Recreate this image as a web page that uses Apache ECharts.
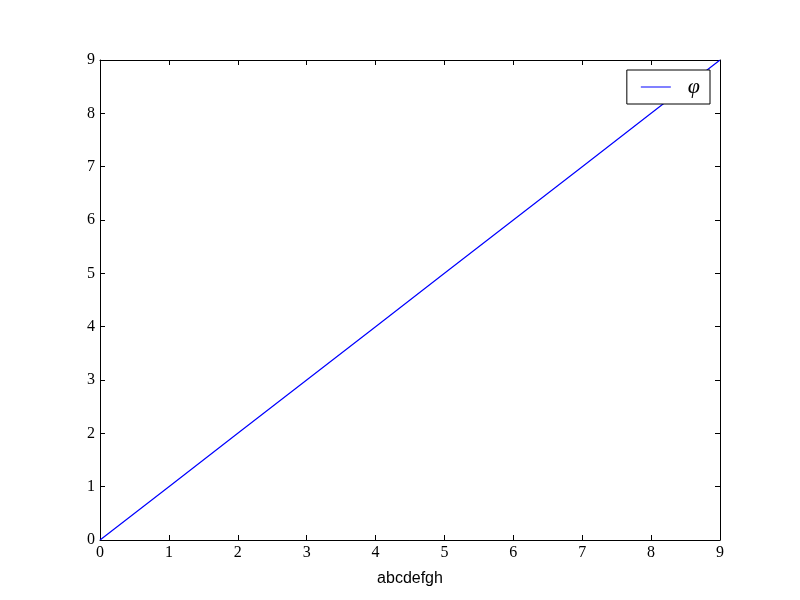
<!DOCTYPE html>
<html><head><meta charset="utf-8">
<script src="https://cdn.jsdelivr.net/npm/echarts@6/dist/echarts.min.js"></script>
<style>html,body{margin:0;padding:0;background:#fff}#c{width:800px;height:600px}</style>
</head><body><div id="c"></div>
<script>
var xValues = [0, 1, 2, 3, 4, 5, 6, 7, 8, 9];
var yValues = [0, 1, 2, 3, 4, 5, 6, 7, 8, 9];
var seriesName = 'φ';
var xLabel = 'abcdefgh';

var pts = xValues.map(function (x, i) { return [x, yValues[i]]; });
var chart = echarts.init(document.getElementById('c'));
var serif = 'Liberation Serif';
function axisBase(pos, showLabel) {
  return {
    type: 'value', min: 0, max: 9, interval: 1, position: pos,
    axisLine: { show: true, onZero: false, lineStyle: { color: '#000', width: 1 } },
    axisTick: { show: true, inside: true, length: 5, lineStyle: { color: '#000' } },
    axisLabel: { show: showLabel, color: '#000', fontFamily: serif, fontSize: 16, margin: 5 },
    splitLine: { show: false }
  };
}
var xMain = axisBase('bottom', true);
xMain.name = xLabel;
xMain.nameLocation = 'middle';
xMain.nameGap = 31;
xMain.nameTextStyle = { color: '#000', fontFamily: 'Liberation Sans', fontSize: 16 };
var xTop = axisBase('top', false);
var yMain = axisBase('left', true);
var yRight = axisBase('right', false);

chart.setOption({
  animation: false,
  grid: { left: 100, right: 80, top: 60, bottom: 60, containLabel: false },
  xAxis: [xMain, xTop],
  yAxis: [yMain, yRight],
  legend: {
    right: 90, top: 70,
    backgroundColor: '#fff',
    borderColor: '#000', borderWidth: 1, borderRadius: 0,
    padding: [6, 10, 6, 14],
    itemWidth: 30, itemHeight: 1,
    icon: 'rect',
    textStyle: { fontFamily: serif, fontStyle: 'italic', fontSize: 22, color: '#000', padding: [0, 0, 0, 12] },
    data: [{ name: seriesName, itemStyle: { color: '#0000ff' } }]
  },
  series: [{
    name: seriesName, type: 'line', data: pts, symbol: 'none',
    lineStyle: { color: '#0000ff', width: 1.2 }, itemStyle: { color: '#0000ff' },
    xAxisIndex: 0, yAxisIndex: 0, z: 1
  }]
});
</script></body></html>
